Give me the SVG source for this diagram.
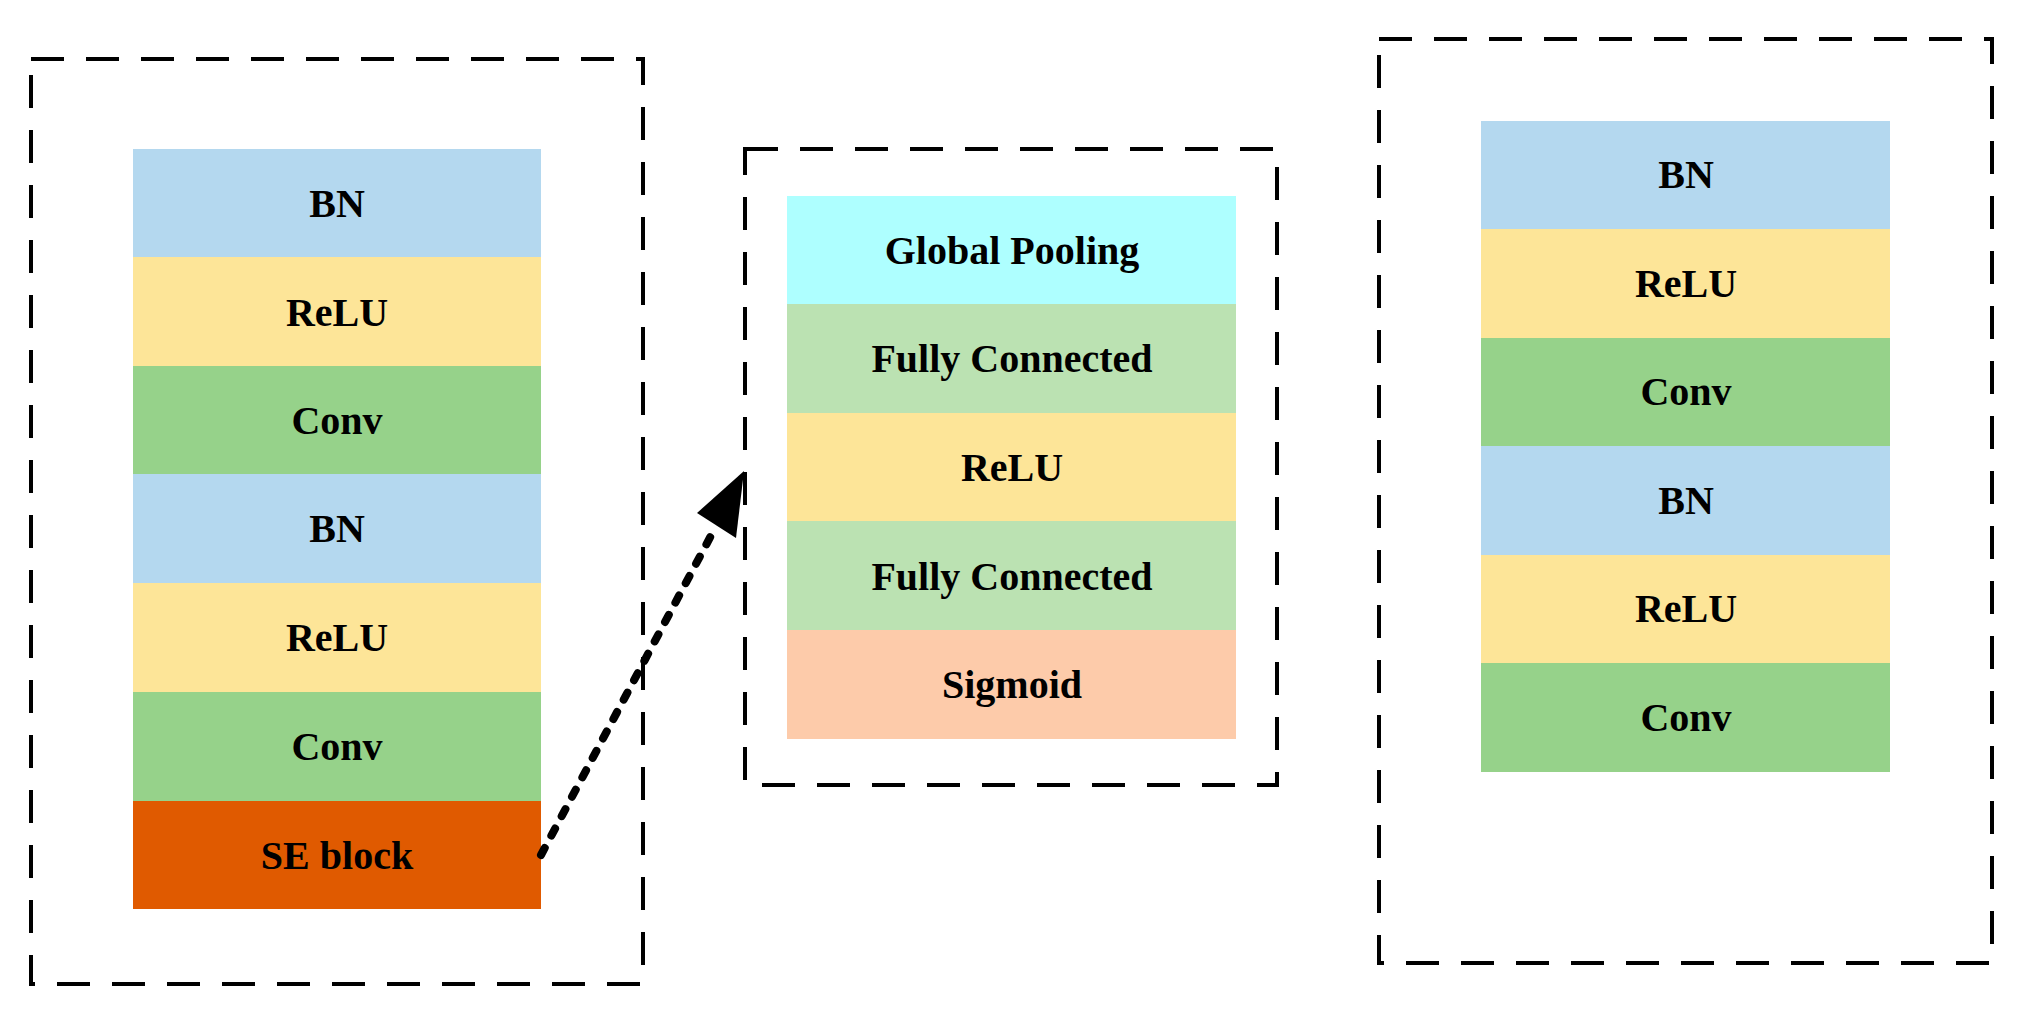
<svg xmlns="http://www.w3.org/2000/svg" width="2025" height="1017" viewBox="0 0 2025 1017">
<style>
.frame{fill:none;stroke:#000;stroke-width:4;stroke-dasharray:33 22}
text{font-family:"Liberation Serif","Times New Roman",serif;font-weight:bold;font-size:40px;text-anchor:middle;dominant-baseline:central;fill:#000}
.bn{fill:#b4d8ef}.relu{fill:#fde598}.conv{fill:#96d28a}.se{fill:#e05a00}.gp{fill:#aeffff}.fc{fill:#bbe2b2}.sig{fill:#fdcbaa}
</style>
<defs>
<marker id="ah" viewBox="0 0 10 10" refX="9" refY="5" markerWidth="6" markerHeight="6" orient="auto" markerUnits="userSpaceOnUse" style="overflow:visible">
<path d="M0,0 L10,5 L0,10 z" fill="#000" transform="scale(6)"/>
</marker>
</defs>
<g id="frames">
<rect class="frame" x="31" y="59" width="612" height="925"/>
<rect class="frame" x="745" y="149" width="532" height="636"/>
<rect class="frame" x="1379" y="39" width="613" height="924"/>
</g>
<g id="left-stack">
<g id="l1"><rect class="bn" x="133" y="149" width="408" height="109"/><text x="337" y="203">BN</text></g>
<g id="l2"><rect class="relu" x="133" y="257" width="408" height="110"/><text x="337" y="312">ReLU</text></g>
<g id="l3"><rect class="conv" x="133" y="366" width="408" height="109"/><text x="337" y="420">Conv</text></g>
<g id="l4"><rect class="bn" x="133" y="474" width="408" height="110"/><text x="337" y="528">BN</text></g>
<g id="l5"><rect class="relu" x="133" y="583" width="408" height="110"/><text x="337" y="637">ReLU</text></g>
<g id="l6"><rect class="conv" x="133" y="692" width="408" height="110"/><text x="337" y="746">Conv</text></g>
<g id="l7"><rect class="se" x="133" y="801" width="408" height="108"/><text x="337" y="855">SE block</text></g>
</g>
<g id="mid-stack">
<g id="m1"><rect class="gp" x="787" y="196" width="449" height="109"/><text x="1012" y="250">Global Pooling</text></g>
<g id="m2"><rect class="fc" x="787" y="304" width="449" height="110"/><text x="1012" y="358">Fully Connected</text></g>
<g id="m3"><rect class="relu" x="787" y="413" width="449" height="109"/><text x="1012" y="467">ReLU</text></g>
<g id="m4"><rect class="fc" x="787" y="521" width="449" height="110"/><text x="1012" y="576">Fully Connected</text></g>
<g id="m5"><rect class="sig" x="787" y="630" width="449" height="109"/><text x="1012" y="684">Sigmoid</text></g>
</g>
<g id="right-stack">
<g id="r1"><rect class="bn" x="1481" y="121" width="409" height="109"/><text x="1686" y="174">BN</text></g>
<g id="r2"><rect class="relu" x="1481" y="229" width="409" height="110"/><text x="1686" y="283">ReLU</text></g>
<g id="r3"><rect class="conv" x="1481" y="338" width="409" height="109"/><text x="1686" y="391">Conv</text></g>
<g id="r4"><rect class="bn" x="1481" y="446" width="409" height="110"/><text x="1686" y="500">BN</text></g>
<g id="r5"><rect class="relu" x="1481" y="555" width="409" height="109"/><text x="1686" y="608">ReLU</text></g>
<g id="r6"><rect class="conv" x="1481" y="663" width="409" height="109"/><text x="1686" y="717">Conv</text></g>
</g>
<g id="connectors">
<line x1="541" y1="855" x2="714" y2="530" stroke="#000" stroke-width="8" stroke-linecap="round" stroke-dasharray="8 14"/>
<polygon points="744,471 736,538 697,513" fill="#000"/>
</g>
</svg>
